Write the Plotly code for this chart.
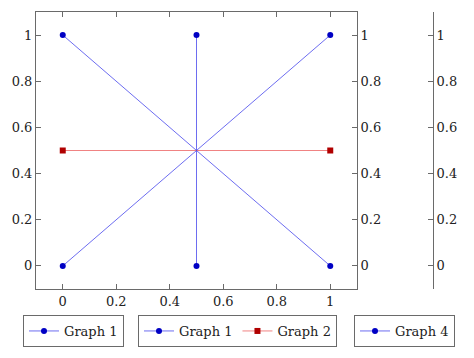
import plotly.graph_objects as go

# Data
g1a_x = [0, 1]
g1a_y = [0, 1]
g1b_x = [0, 1]
g1b_y = [1, 0]
g2_x = [0, 1]
g2_y = [0.5, 0.5]
g4_x = [0.5, 0.5]
g4_y = [0, 1]
tick_vals_x = [0, 0.2, 0.4, 0.6, 0.8, 1]
tick_vals_y = [0, 0.2, 0.4, 0.6, 0.8, 1]

FONT = "DejaVu Serif"
AX = "#6a6a6a"
BLUE_LINE = "rgba(60,60,235,0.75)"
BLUE_MK = "#0000c4"
RED_LINE = "rgba(235,90,90,0.75)"
RED_MK = "#b00000"

fig = go.Figure()
fig.add_trace(go.Scatter(x=g1a_x, y=g1a_y, mode="lines+markers", name="Graph 1",
                         line=dict(color=BLUE_LINE, width=1),
                         marker=dict(color=BLUE_MK, size=6, symbol="circle"),
                         legend="legend"))
fig.add_trace(go.Scatter(x=g1b_x, y=g1b_y, mode="lines+markers", name="Graph 1",
                         line=dict(color=BLUE_LINE, width=1),
                         marker=dict(color=BLUE_MK, size=6, symbol="circle"),
                         legend="legend2"))
fig.add_trace(go.Scatter(x=g2_x, y=g2_y, mode="lines+markers", name="Graph 2",
                         line=dict(color=RED_LINE, width=1),
                         marker=dict(color=RED_MK, size=6, symbol="square"),
                         legend="legend2"))
fig.add_trace(go.Scatter(x=g4_x, y=g4_y, mode="lines+markers", name="Graph 4",
                         line=dict(color=BLUE_LINE, width=1),
                         marker=dict(color=BLUE_MK, size=6, symbol="circle"),
                         legend="legend3"))
# invisible traces to activate extra axes
fig.add_trace(go.Scatter(x=[0], y=[0], yaxis="y2", mode="markers",
                         marker=dict(opacity=0), showlegend=False, hoverinfo="skip"))
fig.add_trace(go.Scatter(x=[0], y=[0], yaxis="y3", mode="markers",
                         marker=dict(opacity=0), showlegend=False, hoverinfo="skip"))

# page offset (browser body margin)
OFF = 8
W, H = 474 - OFF, 358 - OFF
l, r, t = 36 - OFF, 20, 12 - OFF
b = H - (289 - OFF)
pw = W - l - r
ph = H - t - b
dom_right = (357 - 36) / pw
ax3_pos = (433 - 36) / pw

tickfont = dict(family=FONT, size=13, color="#222")
common_y = dict(range=[-0.1, 1.1], tickvals=tick_vals_y, ticks="inside", ticklen=5,
                tickcolor=AX, showline=True, linecolor=AX, linewidth=1,
                showgrid=False, zeroline=False, tickfont=tickfont, automargin=False)

legfont = dict(family=FONT, size=13, color="#222")
leg_y = -(315 - 289) / ph

fig.update_layout(
    width=W, height=H,
    margin=dict(l=l, r=r, t=t, b=b, autoexpand=False),
    plot_bgcolor="white", paper_bgcolor="white",
    font=dict(family=FONT),
    xaxis=dict(domain=[0, dom_right], range=[-0.1, 1.1], tickvals=tick_vals_x,
               ticks="inside", ticklen=5, tickcolor=AX, showline=True, linecolor=AX,
               linewidth=1, mirror="ticks", showgrid=False, zeroline=False,
               tickfont=tickfont, automargin=False),
    yaxis=dict(**common_y, side="left"),
    yaxis2=dict(**common_y, side="right", overlaying="y", anchor="x"),
    yaxis3=dict(**common_y, side="right", overlaying="y", anchor="free",
                position=ax3_pos),
    legend=dict(x=(23 - 36) / pw, y=leg_y, xanchor="left", yanchor="top",
                orientation="h", bordercolor=AX, borderwidth=1, bgcolor="white",
                font=legfont),
    legend2=dict(x=(138 - 36) / pw, y=leg_y, xanchor="left", yanchor="top",
                 orientation="h", bordercolor=AX, borderwidth=1, bgcolor="white",
                 font=legfont),
    legend3=dict(x=(354 - 36) / pw, y=leg_y, xanchor="left", yanchor="top",
                 orientation="h", bordercolor=AX, borderwidth=1, bgcolor="white",
                 font=legfont),
    showlegend=True,
)

fig.write_html("out.html")
